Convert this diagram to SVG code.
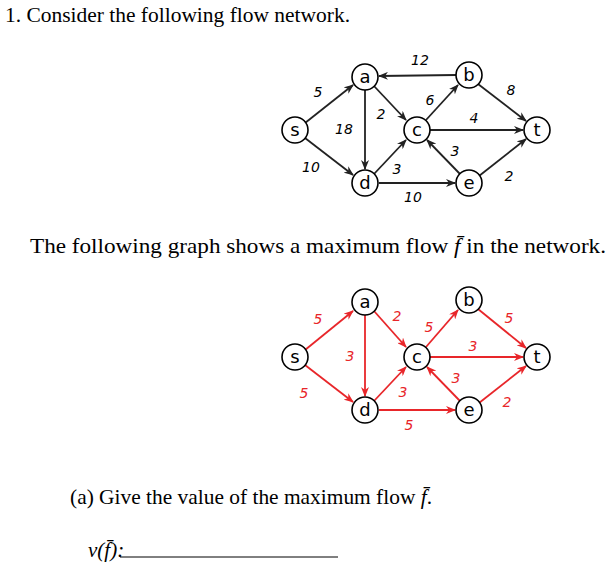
<svg xmlns="http://www.w3.org/2000/svg" width="611" height="567" viewBox="0 0 611 567">
<style>
.t{font-family:"Liberation Serif",serif;font-size:21px;fill:#000}
.n circle{fill:#fff;stroke:#000;stroke-width:1.6}
.n text{font-family:"DejaVu Sans",sans-serif;font-size:18px;text-anchor:middle;fill:#000}
.l{font-family:"DejaVu Sans",sans-serif;font-size:14px;font-style:italic;text-anchor:middle}
.k line{stroke:#222;stroke-width:1.8;marker-end:url(#ak)}
.r line{stroke:#e8262a;stroke-width:1.8;marker-end:url(#ar)}
</style>
<defs>
<marker id="ak" markerWidth="10" markerHeight="8" refX="9" refY="4" orient="auto" markerUnits="userSpaceOnUse"><path d="M0,0L10,4L0,8L3,4Z" fill="#222"/></marker>
<marker id="ar" markerWidth="10" markerHeight="8" refX="9" refY="4" orient="auto" markerUnits="userSpaceOnUse"><path d="M0,0L10,4L0,8L3,4Z" fill="#e8262a"/></marker>
</defs>
<rect width="611" height="567" fill="#fff"/>
<text class="t" x="5" y="22" textLength="345" lengthAdjust="spacingAndGlyphs">1. Consider the following flow network.</text>
<text class="t" x="30" y="253" textLength="576" lengthAdjust="spacingAndGlyphs">The following graph shows a maximum flow <tspan font-style="italic">f̄</tspan> in the network.</text>
<text class="t" x="70" y="504" textLength="362" lengthAdjust="spacingAndGlyphs">(a) Give the value of the maximum flow <tspan font-style="italic">f̄</tspan>.</text>
<text class="t" x="88" y="557" font-style="italic">v(f̄):</text>
<line x1="120" y1="557" x2="338" y2="557" stroke="#000" stroke-width="1"/>

<g id="connectors1" class="k">
<line x1="305" y1="123" x2="353" y2="85"/>
<line x1="305" y1="138" x2="353" y2="175"/>
<line x1="365" y1="90" x2="365" y2="169"/>
<line x1="374" y1="86" x2="406" y2="120"/>
<line x1="456" y1="75" x2="379" y2="76"/>
<line x1="426" y1="120" x2="458" y2="85"/>
<line x1="430" y1="130" x2="523" y2="130"/>
<line x1="478" y1="84" x2="526" y2="121"/>
<line x1="374" y1="174" x2="406" y2="140"/>
<line x1="379" y1="183" x2="455" y2="183"/>
<line x1="460" y1="174" x2="427" y2="140"/>
<line x1="479" y1="176" x2="526" y2="139"/>
</g>
<g id="labels1" class="l">
<text x="420" y="65">12</text><text x="318" y="97">5</text><text x="511" y="95">8</text>
<text x="381" y="119">2</text><text x="430" y="105">6</text><text x="344" y="134">18</text>
<text x="474" y="123">4</text><text x="311" y="172">10</text><text x="397" y="174">3</text>
<text x="455" y="156">3</text><text x="509" y="181">2</text><text x="413" y="202">10</text>
</g>
<g id="s1" class="n"><circle cx="295" cy="130" r="13"/><text x="295" y="136">s</text></g>
<g id="a1" class="n"><circle cx="365" cy="77" r="13"/><text x="365" y="83">a</text></g>
<g id="b1" class="n"><circle cx="469" cy="75" r="13"/><text x="469" y="81">b</text></g>
<g id="c1" class="n"><circle cx="417" cy="130" r="13"/><text x="417" y="136">c</text></g>
<g id="t1" class="n"><circle cx="537" cy="130" r="13"/><text x="537" y="136">t</text></g>
<g id="d1" class="n"><circle cx="365" cy="183" r="13"/><text x="365" y="189">d</text></g>
<g id="e1" class="n"><circle cx="469" cy="183" r="13"/><text x="469" y="189">e</text></g>

<g id="connectors2" class="r">
<line x1="305" y1="350" x2="353" y2="311"/>
<line x1="305" y1="365" x2="353" y2="402"/>
<line x1="365" y1="315" x2="365" y2="396"/>
<line x1="374" y1="311" x2="406" y2="347"/>
<line x1="426" y1="347" x2="458" y2="310"/>
<line x1="430" y1="357" x2="523" y2="357"/>
<line x1="478" y1="309" x2="526" y2="348"/>
<line x1="374" y1="401" x2="406" y2="367"/>
<line x1="379" y1="410" x2="455" y2="410"/>
<line x1="460" y1="401" x2="427" y2="367"/>
<line x1="479" y1="403" x2="526" y2="366"/>
</g>
<g id="labels2" class="l" fill="#e8262a">
<text x="318" y="324">5</text><text x="397" y="321">2</text><text x="429" y="332">5</text>
<text x="509" y="323">5</text><text x="350" y="361">3</text><text x="473" y="351">3</text>
<text x="304" y="398">5</text><text x="403" y="397">3</text><text x="456" y="383">3</text>
<text x="507" y="407">2</text><text x="409" y="430">5</text>
</g>
<g id="s2" class="n"><circle cx="295" cy="357" r="13"/><text x="295" y="363">s</text></g>
<g id="a2" class="n"><circle cx="365" cy="302" r="13"/><text x="365" y="308">a</text></g>
<g id="b2" class="n"><circle cx="469" cy="300" r="13"/><text x="469" y="306">b</text></g>
<g id="c2" class="n"><circle cx="417" cy="357" r="13"/><text x="417" y="363">c</text></g>
<g id="t2" class="n"><circle cx="537" cy="357" r="13"/><text x="537" y="363">t</text></g>
<g id="d2" class="n"><circle cx="365" cy="410" r="13"/><text x="365" y="416">d</text></g>
<g id="e2" class="n"><circle cx="469" cy="410" r="13"/><text x="469" y="416">e</text></g>
</svg>
